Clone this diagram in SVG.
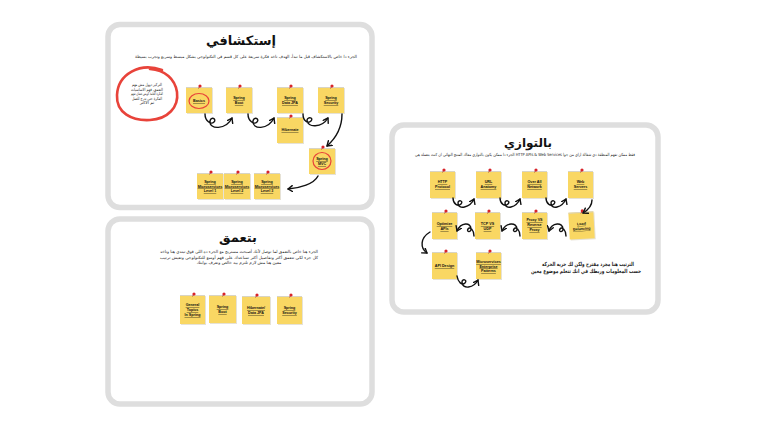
<svg xmlns="http://www.w3.org/2000/svg" width="768" height="431" viewBox="0 0 768 431">
<style>
.card{fill:#fff;stroke:#dedede;stroke-width:5.5}
.ttl{font-family:"DejaVu Sans","Noto Sans",sans-serif;font-weight:bold;font-size:13px;fill:#111;text-anchor:middle}
.sub{font-family:"DejaVu Sans","Noto Sans",sans-serif;font-size:4.2px;fill:#222;text-anchor:middle}
.note{fill:#f9d763}
.ntop{stroke:#d8d4c4;stroke-width:1}
.nsh{fill:#e6e2d6}
.pin{fill:#d8242a}
.pinb{stroke:#8a1010;stroke-width:0.6}
.nt{font-family:"Liberation Sans",Arial,sans-serif;font-weight:bold;font-size:3.7px;fill:#111;text-anchor:middle;text-decoration:underline}
.arr{fill:none;stroke:#111;stroke-width:1.4;stroke-linecap:round;marker-end:url(#ah)}
.red{fill:none;stroke:#e8433a;stroke-linecap:round}
.rtxt{font-family:"DejaVu Sans","Noto Sans",sans-serif;font-weight:bold;font-size:5.6px;fill:#222;text-anchor:middle}
</style>
<defs>
<marker id="ah" markerUnits="userSpaceOnUse" markerWidth="10" markerHeight="10" refX="5" refY="3.5" orient="auto">
<path d="M0.5,0.5 L5,3.5 L0.5,6.5" fill="none" stroke="#111" stroke-width="1.4" stroke-linecap="round" stroke-linejoin="round"/>
</marker>
<g id="pinS"><line class="pinb" x1="0" y1="0" x2="-1.5" y2="2.5"/><circle class="pin" cx="0" cy="0" r="1.6"/></g>
</defs>
<rect width="768" height="431" fill="#fff"/>

<!-- Card 1 -->
<g id="card1">
<rect class="card" x="108" y="24.5" width="264" height="183" rx="12"/>
<text class="ttl" x="241" y="45">إستكشافي</text>
<text class="sub" x="246" y="58" textLength="222" lengthAdjust="spacingAndGlyphs">الجزء دا خاص بالاستكشاف قبل ما تبدأ، الهدف تاخد فكرة سريعة على كل قسم في التكنولوجي بشكل مبسط وسريع وتجرب بسيطة</text>
</g>
<g id="focus-circle">
<path class="red" stroke-width="2.6" d="M162,70 C140,62 118,74 117,95 C116,113 132,121 150,120 C168,119 179,107 177,92 C175,79 165,70 150,69"/>
<text class="sub" x="147" y="86" textLength="30" lengthAdjust="spacingAndGlyphs">التركيز دوول مش مهم</text>
<text class="sub" x="147" y="90.5" textLength="32" lengthAdjust="spacingAndGlyphs">التعمق، فهم الاساسيات</text>
<text class="sub" x="147" y="95" textLength="32" lengthAdjust="spacingAndGlyphs">الفكرة العامة كويس عشان تفهم</text>
<text class="sub" x="147" y="99.5" textLength="30" lengthAdjust="spacingAndGlyphs">الفكرة حتى تدرج للعمل</text>
<text class="sub" x="147" y="104">ثم الاكثر</text>
</g>

<g id="n-basics"><rect class="nsh" x="187" y="88" width="26" height="26"/><rect class="note" x="186" y="87" width="26" height="26"/><line class="ntop" x1="186" y1="87.5" x2="212" y2="87.5"/><use href="#pinS" x="200" y="86"/><text class="nt" x="199" y="102">Basics</text><ellipse class="red" stroke-width="1.2" cx="199" cy="101" rx="10" ry="7.5"/></g>
<g id="n-boot1"><rect class="nsh" x="227" y="88" width="26" height="26"/><rect class="note" x="226" y="87" width="26" height="26"/><line class="ntop" x1="226" y1="87.5" x2="252" y2="87.5"/><use href="#pinS" x="240" y="86"/><text class="nt" x="239" y="99">Spring</text><text class="nt" x="239" y="104">Boot</text></g>
<g id="n-jpa1"><rect class="nsh" x="278" y="88" width="26" height="26"/><rect class="note" x="277" y="87" width="26" height="26"/><line class="ntop" x1="277" y1="87.5" x2="303" y2="87.5"/><use href="#pinS" x="291" y="86"/><text class="nt" x="290" y="99">Spring</text><text class="nt" x="290" y="104">Data JPA</text></g>
<g id="n-sec1"><rect class="nsh" x="319" y="88" width="26" height="26"/><rect class="note" x="318" y="87" width="26" height="26"/><line class="ntop" x1="318" y1="87.5" x2="344" y2="87.5"/><use href="#pinS" x="332" y="86"/><text class="nt" x="331" y="99">Spring</text><text class="nt" x="331" y="104">Security</text></g>
<g id="n-hib1"><rect class="nsh" x="278" y="118" width="26" height="26"/><rect class="note" x="277" y="117" width="26" height="26"/><line class="ntop" x1="277" y1="117.5" x2="303" y2="117.5"/><use href="#pinS" x="291" y="116"/><text class="nt" x="290" y="131">Hibernate</text></g>
<g id="n-mvc"><rect class="nsh" x="310" y="149" width="26" height="26"/><rect class="note" x="309" y="148" width="26" height="26"/><line class="ntop" x1="309" y1="148.5" x2="335" y2="148.5"/><use href="#pinS" x="323" y="147"/><text class="nt" x="322" y="160">Spring</text><text class="nt" x="322" y="165">MVC</text><ellipse class="red" stroke-width="1.2" cx="322" cy="161" rx="9" ry="8.5"/></g>
<g id="n-ms1"><rect class="nsh" x="198" y="174" width="26" height="26"/><rect class="note" x="197" y="173" width="26" height="26"/><line class="ntop" x1="197" y1="173.5" x2="223" y2="173.5"/><use href="#pinS" x="211" y="172"/><text class="nt" x="210" y="183">Spring</text><text class="nt" x="210" y="187.5">Microservices</text><text class="nt" x="210" y="192">Level 1</text></g>
<g id="n-ms2"><rect class="nsh" x="225" y="174" width="26" height="26"/><rect class="note" x="224" y="173" width="26" height="26"/><line class="ntop" x1="224" y1="173.5" x2="250" y2="173.5"/><use href="#pinS" x="238" y="172"/><text class="nt" x="237" y="183">Spring</text><text class="nt" x="237" y="187.5">Microservices</text><text class="nt" x="237" y="192">Level 2</text></g>
<g id="n-ms3"><rect class="nsh" x="255" y="174" width="26" height="26"/><rect class="note" x="254" y="173" width="26" height="26"/><line class="ntop" x1="254" y1="173.5" x2="280" y2="173.5"/><use href="#pinS" x="268" y="172"/><text class="nt" x="267" y="183">Spring</text><text class="nt" x="267" y="187.5">Microservices</text><text class="nt" x="267" y="192">Level 3</text></g>

<!-- Card 2 -->
<g id="card2">
<rect class="card" x="108" y="219" width="264" height="185" rx="12"/>
<text class="ttl" x="238" y="242">بتعمق</text>
<text class="sub" x="239" y="253" textLength="158" lengthAdjust="spacingAndGlyphs">الجزء هنا خاص بالتعمق لما توصل لأنك أصبحت مستريح مع الجزء ده اللي فوق تبتدي هنا وتاخد</text>
<text class="sub" x="239" y="258.5" textLength="158" lengthAdjust="spacingAndGlyphs">كل جزء لكي تتعمق أكثر وتفاصيل أكثر تساعدك على فهم أوسع للتكنولوجي وتعيش ترتيب</text>
<text class="sub" x="239" y="264">معين هنا مش لازم تلتزم بيه خالص وتعرف بوابتك</text>
</g>
<g id="n-gen"><rect class="nsh" x="181" y="296" width="25" height="29"/><rect class="note" x="180" y="295" width="25" height="29"/><line class="ntop" x1="180" y1="295.5" x2="205" y2="295.5"/><use href="#pinS" x="194" y="294"/><text class="nt" x="192.5" y="306">General</text><text class="nt" x="192.5" y="311">Topics</text><text class="nt" x="192.5" y="316">In Spring</text></g>
<g id="n-boot2"><rect class="nsh" x="210" y="296" width="27" height="28"/><rect class="note" x="209" y="295" width="27" height="28"/><line class="ntop" x1="209" y1="295.5" x2="236" y2="295.5"/><use href="#pinS" x="224" y="294"/><text class="nt" x="222.5" y="308">Spring</text><text class="nt" x="222.5" y="313">Boot</text></g>
<g id="n-hib2"><rect class="nsh" x="243" y="297" width="28" height="28"/><rect class="note" x="242" y="296" width="28" height="28"/><line class="ntop" x1="242" y1="296.5" x2="270" y2="296.5"/><use href="#pinS" x="257" y="295"/><text class="nt" x="256" y="309">Hibernate/</text><text class="nt" x="256" y="314">Data JPA</text></g>
<g id="n-sec2"><rect class="nsh" x="278" y="297" width="25" height="28"/><rect class="note" x="277" y="296" width="25" height="28"/><line class="ntop" x1="277" y1="296.5" x2="302" y2="296.5"/><use href="#pinS" x="291" y="295"/><text class="nt" x="289.5" y="309">Spring</text><text class="nt" x="289.5" y="314">Security</text></g>

<!-- Card 3 -->
<g id="card3">
<rect class="card" x="392" y="125" width="266" height="187" rx="12"/>
<text class="ttl" x="528" y="147" style="font-size:12px">بالتوازي</text>
<text class="sub" x="525" y="156" textLength="220" lengthAdjust="spacingAndGlyphs">الجزء دا ممكن يكون بالتوازي معاك المنتج النهائي ان كنت بتعمله هي HTTP APIs &amp; Web Services فقط ممكن تفهم المنطقة دي شغالة ازاي من جوا</text>
<text class="rtxt" x="588" y="266" textLength="92" lengthAdjust="spacingAndGlyphs">الترتيب هنا مجرد مقترح ولكن لك حرية الحركة</text>
<text class="rtxt" x="586" y="273" textLength="110" lengthAdjust="spacingAndGlyphs">حسب المعلومات وربطك في انك تتعلم موضوع معين</text>
</g>
<g id="n-http"><rect class="nsh" x="431" y="172" width="25" height="27"/><rect class="note" x="430" y="171" width="25" height="27"/><line class="ntop" x1="430" y1="171.5" x2="455" y2="171.5"/><use href="#pinS" x="444" y="170"/><text class="nt" x="442.5" y="183">HTTP</text><text class="nt" x="442.5" y="188">Protocol</text></g>
<g id="n-url"><rect class="nsh" x="477" y="172" width="25" height="27"/><rect class="note" x="476" y="171" width="25" height="27"/><line class="ntop" x1="476" y1="171.5" x2="501" y2="171.5"/><use href="#pinS" x="490" y="170"/><text class="nt" x="488.5" y="183">URL</text><text class="nt" x="488.5" y="188">Anatomy</text></g>
<g id="n-net"><rect class="nsh" x="523" y="172" width="25" height="27"/><rect class="note" x="522" y="171" width="25" height="27"/><line class="ntop" x1="522" y1="171.5" x2="547" y2="171.5"/><use href="#pinS" x="536" y="170"/><text class="nt" x="534.5" y="183">Over All</text><text class="nt" x="534.5" y="188">Network</text></g>
<g id="n-web"><rect class="nsh" x="569" y="172" width="25" height="27"/><rect class="note" x="568" y="171" width="25" height="27"/><line class="ntop" x1="568" y1="171.5" x2="593" y2="171.5"/><use href="#pinS" x="582" y="170"/><text class="nt" x="580.5" y="183">Web</text><text class="nt" x="580.5" y="188">Servers</text></g>
<g id="n-opt"><rect class="nsh" x="433" y="213" width="25" height="27"/><rect class="note" x="432" y="212" width="25" height="27"/><line class="ntop" x1="432" y1="212.5" x2="457" y2="212.5"/><use href="#pinS" x="446" y="211"/><text class="nt" x="444.5" y="225">Optimize</text><text class="nt" x="444.5" y="230">APIs</text></g>
<g id="n-tcp"><rect class="nsh" x="476" y="213" width="25" height="27"/><rect class="note" x="475" y="212" width="25" height="27"/><line class="ntop" x1="475" y1="212.5" x2="500" y2="212.5"/><use href="#pinS" x="489" y="211"/><text class="nt" x="487.5" y="225">TCP VS</text><text class="nt" x="487.5" y="230">UDP</text></g>
<g id="n-proxy"><rect class="nsh" x="523" y="213" width="25" height="27"/><rect class="note" x="522" y="212" width="25" height="27"/><line class="ntop" x1="522" y1="212.5" x2="547" y2="212.5"/><use href="#pinS" x="536" y="211"/><text class="nt" x="534.5" y="221">Proxy VS</text><text class="nt" x="534.5" y="226">Reverse</text><text class="nt" x="534.5" y="231">Proxy</text></g>
<g id="n-lb" transform="rotate(-3 581 225)"><rect class="nsh" x="570" y="213" width="25" height="27"/><rect class="note" x="569" y="212" width="25" height="27"/><line class="ntop" x1="569" y1="212.5" x2="594" y2="212.5"/><use href="#pinS" x="583" y="211"/><text class="nt" x="581.5" y="225">Load</text><text class="nt" x="581.5" y="230">Balancing</text></g>
<g id="n-api"><rect class="nsh" x="433" y="253" width="25" height="27"/><rect class="note" x="432" y="252" width="25" height="27"/><line class="ntop" x1="432" y1="252.5" x2="457" y2="252.5"/><use href="#pinS" x="446" y="251"/><text class="nt" x="444.5" y="267">API Design</text></g>
<g id="n-msp"><rect class="nsh" x="477" y="253" width="25" height="27"/><rect class="note" x="476" y="252" width="25" height="27"/><line class="ntop" x1="476" y1="252.5" x2="501" y2="252.5"/><use href="#pinS" x="490" y="251"/><text class="nt" x="488.5" y="263">Microservices</text><text class="nt" x="488.5" y="267.5">Enterprise</text><text class="nt" x="488.5" y="272">Patterns</text></g>

<!-- Connectors -->
<g id="connectors">
<path class="arr" d="M205,114 C205,121 211,125 214,122 C217,119 211,116 210,121 C209,130 226,130 232,118"/>
<path class="arr" d="M248,114 C248,121 254,125 257,122 C260,119 254,116 253,121 C252,130 268,130 274,118"/>
<path class="arr" d="M303,114 C303,121 308,124 311,121 C314,118 308,116 307,120 C307,128 322,128 328,118"/>
<path class="arr" d="M342,114 C342,128 336,138 327,146"/>
<path class="arr" d="M318,176 C314,184 300,188 288,189"/>
<path class="arr" d="M453,198 C453,204 458,207 461,204 C464,201 458,199 458,203 C458,210 470,208 474,199"/>
<path class="arr" d="M500,198 C500,204 505,207 508,204 C511,201 505,199 505,203 C505,210 516,208 520,199"/>
<path class="arr" d="M546,198 C546,204 551,207 554,204 C557,201 551,199 551,203 C551,210 562,208 566,199"/>
<path class="arr" d="M592,200 C592,206 588,210 583,213"/>
<path class="arr" d="M566,236 C566,230 562,226 560,229 C558,232 563,233 563,229 C563,222 552,222 549,231"/>
<path class="arr" d="M520,236 C520,230 516,226 514,229 C512,232 517,233 517,229 C517,222 506,222 502,231"/>
<path class="arr" d="M474,236 C474,230 470,226 468,229 C466,232 471,233 471,229 C471,222 461,222 457,231"/>
<path class="arr" d="M430,232 C420,238 420,248 427,253"/>
<path class="arr" d="M457,276 C458,282 462,286 465,283 C468,280 462,278 462,282 C462,290 474,288 478,280"/>
</g>
</svg>
